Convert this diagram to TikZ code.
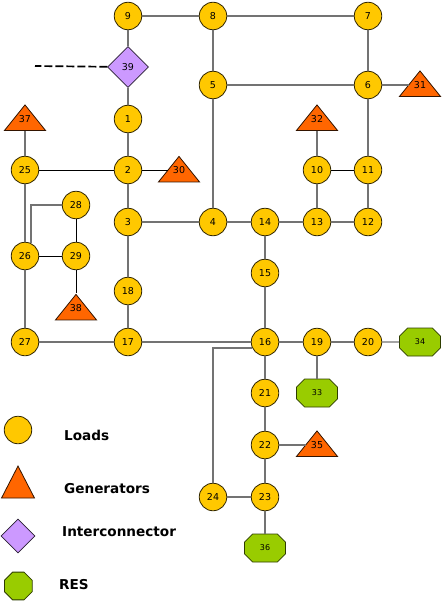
\documentclass[tikz,border=0pt]{standalone}
\usepackage{fontspec}
\setmainfont{DejaVu Sans}
\usetikzlibrary{shapes.geometric,shapes.misc}
\definecolor{loadcol}{HTML}{FFC800}
\definecolor{gencol}{HTML}{FF6600}
\definecolor{intcol}{HTML}{CC99FF}
\definecolor{rescol}{HTML}{99CC00}
\tikzset{
  load/.style={circle,draw=black!80!loadcol,fill=loadcol,line width=0.8pt,minimum size=27.5pt,inner sep=0pt,font=\fontsize{9.5}{9.5}\selectfont},
  gen/.style={isosceles triangle,isosceles triangle stretches,shape border rotate=90,draw=black!80!gencol,fill=gencol,line width=0.8pt,minimum width=41pt,minimum height=25.5pt,inner sep=0pt,font=\fontsize{9.5}{9.5}\selectfont},
  inter/.style={diamond,draw=black!80!intcol,fill=intcol,line width=0.8pt,minimum size=41pt,inner sep=0pt,font=\fontsize{9.5}{9.5}\selectfont},
  res/.style={chamfered rectangle,chamfered rectangle xsep=12pt,chamfered rectangle ysep=12pt,draw=black!70!rescol,fill=rescol,line width=0.8pt,minimum width=41pt,minimum height=28pt,inner sep=0pt,font=\fontsize{8}{8}\selectfont},
  legres/.style={regular polygon,regular polygon sides=8,draw=black!70!rescol,fill=rescol,line width=0.8pt,minimum size=30pt,inner sep=0pt},
  link/.style={draw=black!55,line width=1.1pt},
  linkb/.style={draw=black,line width=0.9pt},
  legend/.style={anchor=west,inner sep=0pt,font=\fontsize{13.6}{14}\selectfont\bfseries}
}
\begin{document}
\begin{tikzpicture}[x=1pt,y=-1pt]
      \useasboundingbox (0,0) rectangle (442,602);
      \foreach \n/\a/\b in {9/128/16,8/213/16,7/368/16,5/213/85,6/368/85,1/128/119,2/128/170,25/25/170,10/317/170,11/368/170,3/128/222,4/213/222,14/265/222,13/317/222,12/368/222,28/76/205,26/25/256,29/76/256,18/128/291,15/265/273,27/25/342,17/128/342,16/265/342,19/317/342,20/368/342,21/265/393,22/265/445,24/213/497,23/265/497}
        \node[load] (\n) at (\a,\b) {\n};
      \foreach \n/\a/\b in {37/25/123.5,30/179/175,31/420/89.5,32/317/123.5,38/76/313,35/317/449.5}
        \node[gen] (\n) at (\a,\b) {\smash{\raisebox{1.2pt}{\n}}};
      \foreach \n/\a/\b in {33/317/393,34/420/342,36/265/548}
        \node[res] (\n) at (\a,\b) {\n};
      \node[inter] (39) at (128,67) {39};
      \coordinate (sea) at (35,66);
      \draw[black,line width=1.7pt,dash pattern=on 8pt off 3pt] (39) -- (sea);
      \foreach \p/\q in {9/8,8/7,9/39,39/1,1/2,8/5,5/6,7/6,5/4,6/11,10/13,11/12,25/26,26/27,2/3,3/18,18/17,3/4,4/14,14/13,13/12,14/15,15/16,27/17,17/16,16/19,19/20,20/34,19/33,16/21,21/22,22/23,23/24,23/36}
        \draw[link] (\p) -- (\q);
      \foreach \p/\q in {25/2,26/29,28/29,10/11}
        \draw[linkb] (\p) -- (\q);
      \draw[link] (6) -- (31.left side |- 6);
      \draw[link] (22) -- (35.left side |- 22);
      \draw[link] (32.lower side) -- (10);
      \draw[link] (37.lower side) -- (25);
      \draw[linkb] (2) -- (30.left side |- 2);
      \draw[linkb] (29) -- (38.apex);
      \draw[link] (26.65) |- (28);
      \draw[link] (24) |- (16.205);
      \node[load] (legload) at (18,430) {};
      \node[gen,minimum width=33pt,minimum height=32pt] (leggen) at (18,488) {};
      \node[inter,minimum size=34pt] (legint) at (18,536) {};
      \node[legres] (legoct) at (18.3,586) {};
      \node[legend] (txtload) at (64,435) {Loads};
      \node[legend] (txtgen) at (64,489) {Generators};
      \node[legend] (txtint) at (62,532) {Interconnector};
      \node[legend] (txtres) at (59,585) {RES};
    \end{tikzpicture}
\end{document}
